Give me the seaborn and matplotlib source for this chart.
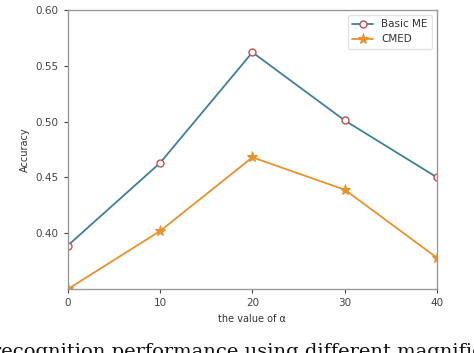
import matplotlib
matplotlib.use("Agg")
import matplotlib.pyplot as plt
import seaborn as sns
import pandas as pd

# data
alpha_values = [0, 10, 20, 30, 40]
basic_me = [0.389, 0.463, 0.562, 0.501, 0.450]
cmed = [0.350, 0.402, 0.468, 0.439, 0.378]
y_ticks = [0.40, 0.45, 0.50, 0.55, 0.60]
caption = "recognition performance using different magnification"

sns.set_style("white")
plt.rcParams["font.family"] = ["DejaVu Sans"]

df = pd.DataFrame({"alpha": alpha_values, "Basic ME": basic_me, "CMED": cmed})

fig = plt.figure(figsize=(4.74, 3.53), dpi=100)
ax = fig.add_axes([0.143, 0.181, 0.779, 0.791])

sns.lineplot(data=df, x="alpha", y="Basic ME", ax=ax, color="#3f7f9a", linewidth=1.3,
             marker="o", markersize=5, markerfacecolor="white", markeredgecolor="#c0504d",
             markeredgewidth=1.0, label="Basic ME")
sns.lineplot(data=df, x="alpha", y="CMED", ax=ax, color="#e8922e", linewidth=1.3,
             marker="*", markersize=8, markeredgecolor="#e8922e", label="CMED")

ax.set_xlim(0, 40)
ax.set_ylim(0.35, 0.60)
ax.set_xticks(alpha_values)
ax.set_yticks(y_ticks)
ax.set_yticklabels([f"{v:.2f}" for v in y_ticks])
ax.tick_params(axis="both", labelsize=7.5, colors="#444444", length=3, width=0.8, direction="out")
ax.tick_params(axis="both", bottom=True, left=True)
ax.set_xlabel("the value of α", fontsize=7, color="#333333")
ax.set_ylabel("Accuracy", fontsize=7, color="#333333")
for s in ax.spines.values():
    s.set_color("#999999")
    s.set_linewidth(1.0)

leg = ax.legend(loc="upper right", fontsize=7.5, frameon=True, handlelength=2.0)
leg.get_frame().set_edgecolor("#dddddd")
for t in leg.get_texts():
    t.set_color("#333333")

fig.text(-0.017, -0.01, caption, fontsize=14, family="DejaVu Serif", color="#111111",
         ha="left", va="baseline")

fig.savefig("out.png", dpi=100)
